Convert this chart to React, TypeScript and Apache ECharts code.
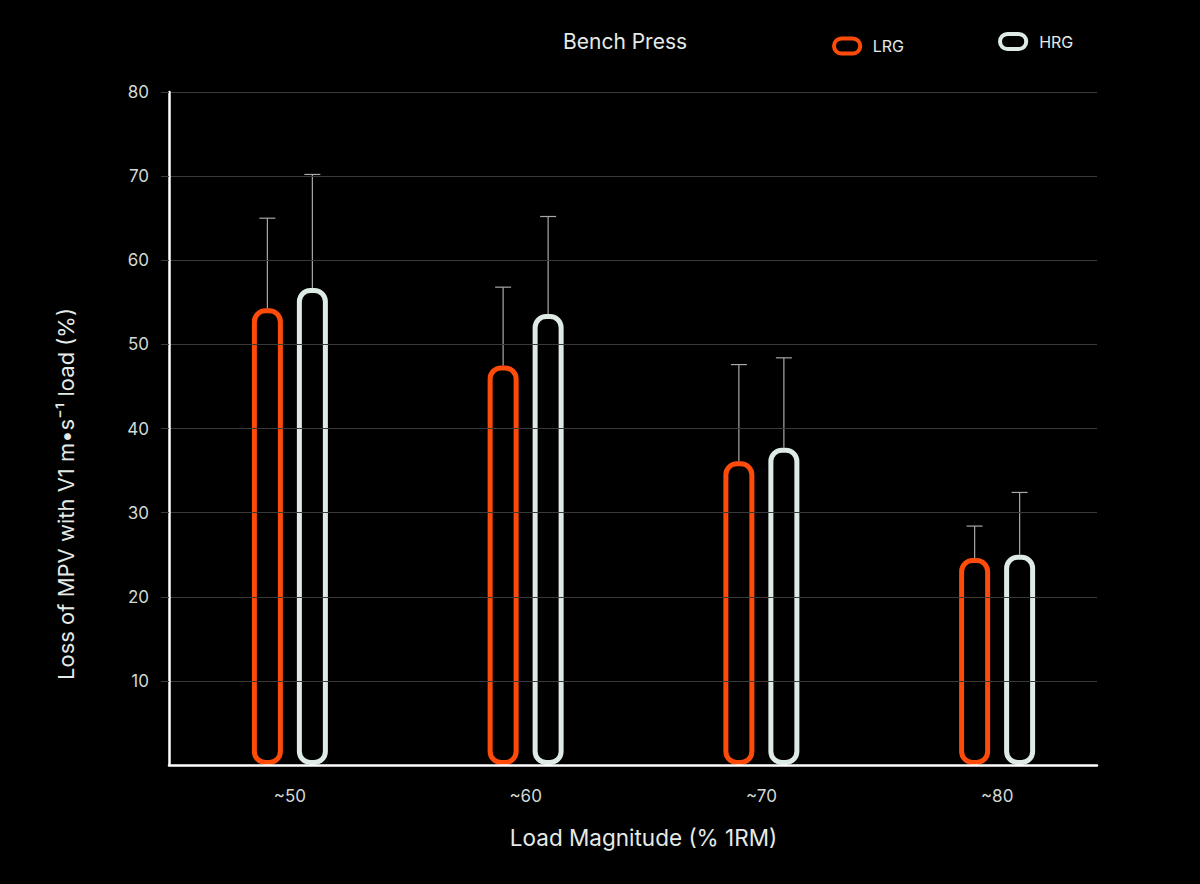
import React, { useEffect, useRef } from "react";
import * as echarts from "echarts";

const categories = ["~50", "~60", "~70", "~80"];
const lrgMean = [54.3, 47.5, 36.1, 24.6];
const lrgSd = [10.7, 9.3, 11.5, 3.8];
const hrgMean = [56.7, 53.6, 37.7, 25.0];
const hrgSd = [13.5, 11.6, 10.7, 7.4];
const yTicks = { min: 0, max: 80, interval: 10 };

const ORANGE = "#FF4B0A";
const MINT = "#DDEBE4";
const TEXT = "#E4EAE7";
const LABEL = "#D2DAD6";
const GRID = "#3a3a3a";
const ERR = "#a8a8a8";
const FONT = "Inter, 'Noto Sans', sans-serif";

const BAR_W = 31;
const BAR_GAP_PX = 14;
const OFFSET = (BAR_W + BAR_GAP_PX) / 2;

const PILL = "path://M8,0L20,0A8,8,0,0,1,20,16L8,16A8,8,0,0,1,8,0Z";

export default function App() {
  const ref = useRef<HTMLDivElement>(null);
  useEffect(() => {
    document.body.style.margin = "0";
    document.body.style.background = "#000";
    const chart = echarts.init(ref.current!, null, { renderer: "svg" });

    const errData = (means: number[], sds: number[]) =>
      means.map((m, i) => [i, m, m + sds[i]]);

    const errSeries = (name: string, means: number[], sds: number[], dir: number) => ({
      type: "custom",
      name: name + " err",
      xAxisIndex: 1,
      yAxisIndex: 1,
      z: 5,
      silent: true,
      encode: { x: 0, y: [1, 2] },
      data: errData(means, sds),
      renderItem: (params: any, api: any) => {
        const idx = api.value(0);
        const lo = api.coord([idx, api.value(1)]);
        const hi = api.coord([idx, api.value(2)]);
        const x = lo[0] + dir * OFFSET;
        const style = { stroke: ERR, lineWidth: 1.2 };
        return {
          type: "group",
          children: [
            { type: "line", shape: { x1: x, y1: lo[1], x2: x, y2: hi[1] }, style },
            { type: "line", shape: { x1: x - 8, y1: hi[1], x2: x + 8, y2: hi[1] }, style },
          ],
        };
      },
    });

    const option: any = {
      animation: false,
      backgroundColor: "#000",
      title: {
        text: "Bench Press",
        left: 563,
        top: 31,
        padding: 0,
        textStyle: { color: TEXT, fontFamily: FONT, fontSize: 21, fontWeight: "normal" },
      },
      legend: [
        {
          data: ["LRG"],
          left: 832,
          top: 36.5,
          padding: 0,
          itemWidth: 27,
          itemHeight: 15,
          icon: PILL,
          itemStyle: { color: "#000", borderColor: ORANGE, borderWidth: 4 },
          textStyle: { color: TEXT, fontFamily: FONT, fontSize: 16, padding: [0, 0, 0, 7] },
        },
        {
          data: ["HRG"],
          left: 998,
          top: 32,
          padding: 0,
          itemWidth: 28,
          itemHeight: 15,
          icon: PILL,
          itemStyle: { color: "#000", borderColor: MINT, borderWidth: 4 },
          textStyle: { color: TEXT, fontFamily: FONT, fontSize: 16, padding: [0, 0, 9, 7] },
        },
      ],
      grid: [
        { left: 169, right: 103, top: 92, bottom: 119 },
        { left: 172, right: 85, top: 92, bottom: 119 },
      ],
      xAxis: [
        {
          type: "value",
          gridIndex: 0,
          min: 0,
          max: 1,
          z: 10,
          axisLine: { show: true, lineStyle: { color: "#ffffff", width: 2.5 } },
          axisTick: { show: false },
          axisLabel: { show: false },
          splitLine: { show: false },
        },
        {
          type: "category",
          gridIndex: 1,
          data: categories,
          name: "Load Magnitude (% 1RM)",
          nameLocation: "middle",
          nameGap: 61,
          nameTextStyle: { color: TEXT, fontFamily: FONT, fontSize: 22.5 },
          axisLine: { show: false },
          axisTick: { show: false },
          axisLabel: { color: LABEL, fontFamily: FONT, fontSize: 17, margin: 22 },
        },
      ],
      yAxis: [
        {
          type: "value",
          gridIndex: 0,
          min: yTicks.min,
          max: yTicks.max,
          interval: yTicks.interval,
          z: 10,
          axisLine: { show: true, lineStyle: { color: "#ffffff", width: 2.5 } },
          axisTick: { show: true, length: 8, lineStyle: { color: GRID, width: 1 } },
          axisLabel: {
            color: LABEL,
            fontFamily: FONT,
            fontSize: 17,
            margin: 20,
            showMinLabel: false,
          },
          splitLine: { show: true, lineStyle: { color: GRID, width: 1 } },
        },
        {
          type: "value",
          gridIndex: 1,
          min: yTicks.min,
          max: yTicks.max,
          interval: yTicks.interval,
          show: false,
          splitLine: { show: false },
        },
      ],
      graphic: [
        {
          type: "text",
          x: 66,
          y: 494,
          rotation: Math.PI / 2,
          style: {
            text: "Loss of MPV with V1 m\u2022s\u207B\u00B9 load (%)",
            fill: TEXT,
            font: `22px ${FONT}`,
            align: "center",
            verticalAlign: "middle",
          },
        },
      ],
      series: [
        {
          name: "LRG",
          type: "bar",
          xAxisIndex: 1,
          yAxisIndex: 1,
          data: lrgMean,
          barWidth: BAR_W,
          barGap: `${(BAR_GAP_PX / BAR_W) * 100}%`,
          itemStyle: { color: "#000", borderColor: ORANGE, borderWidth: 5, borderRadius: 11 },
        },
        {
          name: "HRG",
          type: "bar",
          xAxisIndex: 1,
          yAxisIndex: 1,
          data: hrgMean,
          barWidth: BAR_W,
          barGap: `${(BAR_GAP_PX / BAR_W) * 100}%`,
          itemStyle: { color: "#000", borderColor: MINT, borderWidth: 5, borderRadius: 11 },
        },
        errSeries("LRG", lrgMean, lrgSd, -1),
        errSeries("HRG", hrgMean, hrgSd, 1),
      ],
    };
    chart.setOption(option);
    return () => chart.dispose();
  }, []);
  return (
    <div
      ref={ref}
      style={{ position: "fixed", left: 0, top: 0, width: 1200, height: 884, background: "#000" }}
    />
  );
}
